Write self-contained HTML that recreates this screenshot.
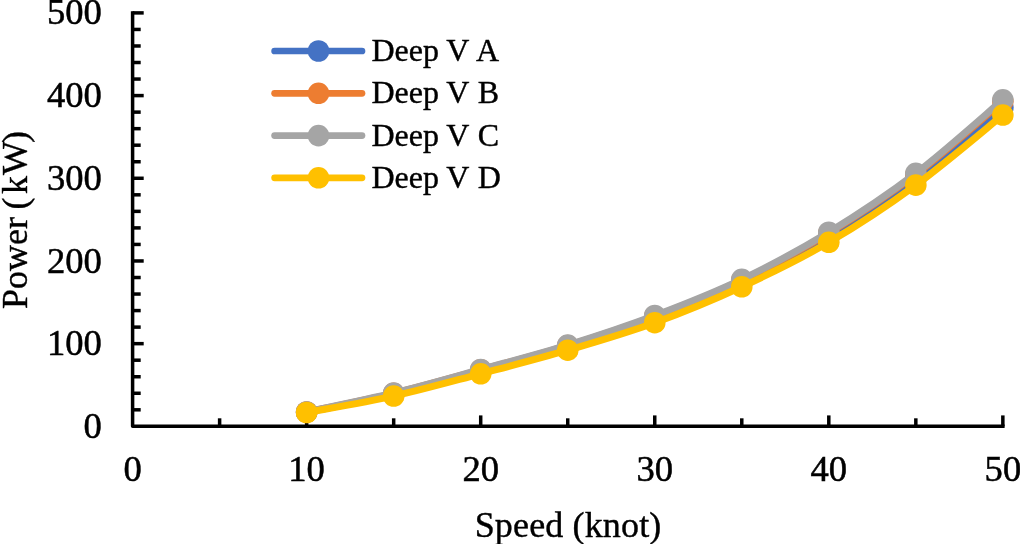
<!DOCTYPE html>
<html><head><meta charset="utf-8"><title>Power vs Speed</title>
<style>html,body{margin:0;padding:0;background:#fff;}body{width:1020px;height:544px;overflow:hidden;}svg{display:block;}text{font-family:"Liberation Serif",serif;fill:#000;}</style></head><body>
<svg width="1020" height="544" viewBox="0 0 1020 544">
<rect width="1020" height="544" fill="#fff"/>
<g stroke="#000" stroke-width="3.5" fill="none" stroke-linecap="butt">
<path d="M132.60 11.15 V426.35 H1004.60" stroke-linejoin="round"/>
<path d="M132.60 409.81 H140.70"/>
<path d="M132.60 393.27 H140.70"/>
<path d="M132.60 376.74 H140.70"/>
<path d="M132.60 360.20 H140.70"/>
<path d="M132.60 343.66 H143.70"/>
<path d="M132.60 327.12 H140.70"/>
<path d="M132.60 310.58 H140.70"/>
<path d="M132.60 294.05 H140.70"/>
<path d="M132.60 277.51 H140.70"/>
<path d="M132.60 260.97 H143.70"/>
<path d="M132.60 244.43 H140.70"/>
<path d="M132.60 227.89 H140.70"/>
<path d="M132.60 211.36 H140.70"/>
<path d="M132.60 194.82 H140.70"/>
<path d="M132.60 178.28 H143.70"/>
<path d="M132.60 161.74 H140.70"/>
<path d="M132.60 145.20 H140.70"/>
<path d="M132.60 128.67 H140.70"/>
<path d="M132.60 112.13 H140.70"/>
<path d="M132.60 95.59 H143.70"/>
<path d="M132.60 79.05 H140.70"/>
<path d="M132.60 62.51 H140.70"/>
<path d="M132.60 45.98 H140.70"/>
<path d="M132.60 29.44 H140.70"/>
<path d="M132.60 12.90 H143.70"/>
<path d="M219.62 426.35 V418.30"/>
<path d="M306.65 426.35 V415.40"/>
<path d="M393.68 426.35 V418.30"/>
<path d="M480.70 426.35 V415.40"/>
<path d="M567.73 426.35 V418.30"/>
<path d="M654.75 426.35 V415.40"/>
<path d="M741.78 426.35 V418.30"/>
<path d="M828.80 426.35 V415.40"/>
<path d="M915.83 426.35 V418.30"/>
<path d="M1002.85 426.35 V415.40"/>
</g>
<g font-size="36.6" text-anchor="end" stroke="#000" stroke-width="0.5">
<text x="101.9" y="437.9">0</text>
<text x="101.9" y="355.2">100</text>
<text x="101.9" y="272.5">200</text>
<text x="101.9" y="189.8">300</text>
<text x="101.9" y="107.1">400</text>
<text x="101.9" y="24.4">500</text>
</g>
<g font-size="36.6" text-anchor="middle" stroke="#000" stroke-width="0.5">
<text x="132.6" y="481">0</text>
<text x="306.6" y="481">10</text>
<text x="480.7" y="481">20</text>
<text x="654.8" y="481">30</text>
<text x="828.8" y="481">40</text>
<text x="1002.9" y="481">50</text>
</g>
<g font-size="36" text-anchor="middle" stroke="#000" stroke-width="0.4">
<text x="568.1" y="536.8" letter-spacing="0.15">Speed (knot)</text>
<text transform="translate(27.4 220.0) rotate(-90)">Power <tspan dx="-1.5">(</tspan><tspan dx="3.5">k</tspan><tspan dx="1">W</tspan><tspan dx="-1.8">)</tspan></text>
</g>
<g fill="#4472C4" stroke="#4472C4">
<path d="M306.65 412.21 C321.15 409.27 364.67 401.31 393.68 394.54 C422.68 387.78 451.69 379.45 480.70 371.62 C509.71 363.80 538.72 356.37 567.73 347.62 C596.73 338.87 625.74 329.87 654.75 319.10 C683.76 308.33 712.77 296.66 741.78 283.02 C770.78 269.38 799.79 254.57 828.80 237.27 C857.81 219.97 886.82 200.87 915.83 179.22 C944.83 157.58 988.35 119.38 1002.85 107.41" fill="none" stroke-width="7.0" stroke-linecap="round" stroke-linejoin="round"/>
<g stroke="none"><circle cx="306.65" cy="412.21" r="10.8"/><circle cx="393.68" cy="394.54" r="10.8"/><circle cx="480.70" cy="371.62" r="10.8"/><circle cx="567.73" cy="347.62" r="10.8"/><circle cx="654.75" cy="319.10" r="10.8"/><circle cx="741.78" cy="283.02" r="10.8"/><circle cx="828.80" cy="237.27" r="10.8"/><circle cx="915.83" cy="179.22" r="10.8"/><circle cx="1002.85" cy="107.41" r="10.8"/></g>
</g>
<g fill="#ED7D31" stroke="#ED7D31">
<path d="M306.65 411.99 C321.15 408.88 364.67 400.34 393.68 393.32 C422.68 386.31 451.69 377.87 480.70 369.91 C509.71 361.95 538.72 354.50 567.73 345.56 C596.73 336.61 625.74 327.14 654.75 316.22 C683.76 305.30 712.77 293.87 741.78 280.04 C770.78 266.21 799.79 250.82 828.80 233.24 C857.81 215.65 886.82 196.51 915.83 174.52 C944.83 152.53 988.35 113.50 1002.85 101.30" fill="none" stroke-width="7.0" stroke-linecap="round" stroke-linejoin="round"/>
<g stroke="none"><circle cx="306.65" cy="411.99" r="10.8"/><circle cx="393.68" cy="393.32" r="10.8"/><circle cx="480.70" cy="369.91" r="10.8"/><circle cx="567.73" cy="345.56" r="10.8"/><circle cx="654.75" cy="316.22" r="10.8"/><circle cx="741.78" cy="280.04" r="10.8"/><circle cx="828.80" cy="233.24" r="10.8"/><circle cx="915.83" cy="174.52" r="10.8"/><circle cx="1002.85" cy="101.30" r="10.8"/></g>
</g>
<g fill="#A5A5A5" stroke="#A5A5A5">
<path d="M306.65 411.93 C321.15 408.78 364.67 400.09 393.68 393.02 C422.68 385.94 451.69 377.48 480.70 369.48 C509.71 361.48 538.72 354.04 567.73 345.04 C596.73 336.04 625.74 326.46 654.75 315.50 C683.76 304.54 712.77 293.18 741.78 279.30 C770.78 265.42 799.79 249.89 828.80 232.23 C857.81 214.57 886.82 195.43 915.83 173.35 C944.83 151.27 988.35 112.03 1002.85 99.77" fill="none" stroke-width="7.0" stroke-linecap="round" stroke-linejoin="round"/>
<g stroke="none"><circle cx="306.65" cy="411.93" r="10.8"/><circle cx="393.68" cy="393.02" r="10.8"/><circle cx="480.70" cy="369.48" r="10.8"/><circle cx="567.73" cy="345.04" r="10.8"/><circle cx="654.75" cy="315.50" r="10.8"/><circle cx="741.78" cy="279.30" r="10.8"/><circle cx="828.80" cy="232.23" r="10.8"/><circle cx="915.83" cy="173.35" r="10.8"/><circle cx="1002.85" cy="99.77" r="10.8"/></g>
</g>
<g fill="#FFC000" stroke="#FFC000">
<path d="M306.65 412.50 C321.15 409.76 364.67 402.52 393.68 396.07 C422.68 389.62 451.69 381.41 480.70 373.77 C509.71 366.12 538.72 358.71 567.73 350.20 C596.73 341.69 625.74 333.28 654.75 322.70 C683.76 312.12 712.77 300.14 741.78 286.74 C770.78 273.34 799.79 259.25 828.80 242.31 C857.81 225.37 886.82 206.31 915.83 185.10 C944.83 163.89 988.35 126.73 1002.85 115.05" fill="none" stroke-width="7.0" stroke-linecap="round" stroke-linejoin="round"/>
<g stroke="none"><circle cx="306.65" cy="412.50" r="10.8"/><circle cx="393.68" cy="396.07" r="10.8"/><circle cx="480.70" cy="373.77" r="10.8"/><circle cx="567.73" cy="350.20" r="10.8"/><circle cx="654.75" cy="322.70" r="10.8"/><circle cx="741.78" cy="286.74" r="10.8"/><circle cx="828.80" cy="242.31" r="10.8"/><circle cx="915.83" cy="185.10" r="10.8"/><circle cx="1002.85" cy="115.05" r="10.8"/></g>
</g>
<g font-size="32" stroke="#000" stroke-width="0.4">
<path d="M274.6 51.0 H362" stroke="#4472C4" stroke-width="6.7" stroke-linecap="round"/>
<circle cx="318.5" cy="51.0" r="10.8" fill="#4472C4" stroke="none"/>
<text x="371.4" y="60.9">Deep V <tspan dx="0.8">A</tspan></text>
<path d="M274.6 93.3 H362" stroke="#ED7D31" stroke-width="6.7" stroke-linecap="round"/>
<circle cx="318.5" cy="93.3" r="10.8" fill="#ED7D31" stroke="none"/>
<text x="371.4" y="103.3">Deep V <tspan dx="0.8">B</tspan></text>
<path d="M274.6 135.6 H362" stroke="#A5A5A5" stroke-width="6.7" stroke-linecap="round"/>
<circle cx="318.5" cy="135.6" r="10.8" fill="#A5A5A5" stroke="none"/>
<text x="371.4" y="145.8">Deep V <tspan dx="0.8">C</tspan></text>
<path d="M274.6 177.8 H362" stroke="#FFC000" stroke-width="6.7" stroke-linecap="round"/>
<circle cx="318.5" cy="177.8" r="10.8" fill="#FFC000" stroke="none"/>
<text x="371.4" y="188.3">Deep V <tspan dx="0.8">D</tspan></text>
</g>
</svg></body></html>
